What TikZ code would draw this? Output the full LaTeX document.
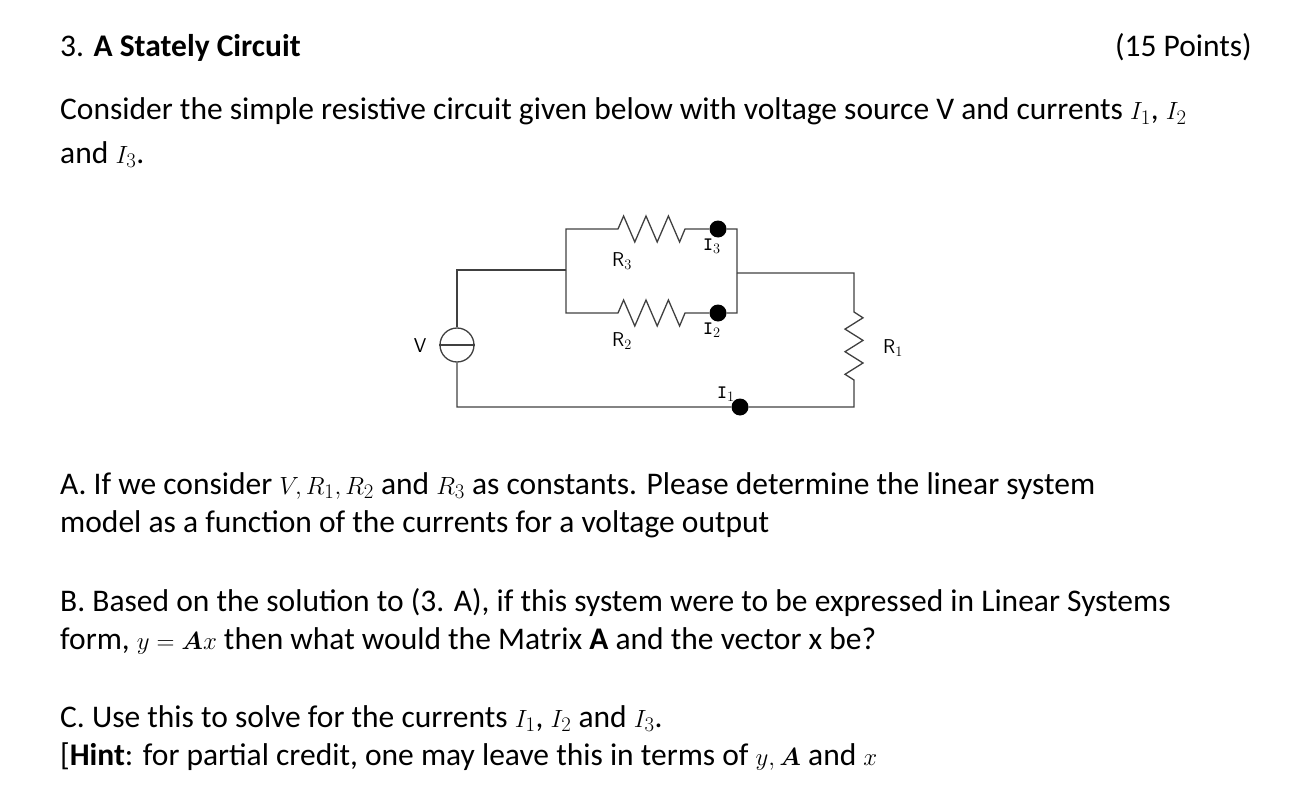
\documentclass[tikz,border=0pt]{standalone}
\usepackage{fontspec}
\setmainfont{Carlito}
\usepackage{amsmath}
\begin{document}
\begin{tikzpicture}[x=1pt,y=-1pt,
  txt/.style={anchor=base west,inner sep=0,font=\fontsize{31.5}{36}\selectfont},
  lab/.style={inner sep=0,font=\fontsize{20}{24}\selectfont\sffamily},
  cur/.style={inner sep=0,font=\fontsize{19}{22}\selectfont\ttfamily\bfseries},
  w/.style={line width=1.3pt,black!75},
  dot/.style={circle,fill=black,inner sep=0,minimum size=17pt}]
\useasboundingbox (0,0) rectangle (1302,808);
\node[txt] (t1) at (60,57) {3. \textbf{A Stately Circuit}};
\node[txt,anchor=base east] (t2) at (1252,57) {(15 Points)};
\node[txt] (l1) at (60,120) {Consider the simple resistive circuit given below with voltage source V and currents $I_1$, $I_2$};
\node[txt] (l2) at (60,163) {and $I_3$.};
\node[txt] (a1) at (60,494) {A. If we consider $V, R_1, R_2$ and $R_3$ as constants. Please determine the linear system};
\node[txt] (a2) at (60,532) {model as a function of the currents for a voltage output};
\node[txt] (b1) at (60,611) {B. Based on the solution to (3. A), if this system were to be expressed in Linear Systems};
\node[txt] (b2) at (60,649) {form, $y=\boldsymbol{A}x$ then what would the Matrix \textbf{A} and the vector x be?};
\node[txt] (c1) at (60,727) {C. Use this to solve for the currents $I_1$, $I_2$ and $I_3$.};
\node[txt] (c2) at (60,765) {[\textbf{Hint}: for partial credit, one may leave this in terms of $y, \boldsymbol{A}$ and $x$};
% circuit
\node[circle,draw,w,minimum size=34pt,inner sep=0] (src) at (457,345) {};
\draw[w] (src.west) -- (src.east);
\coordinate (tl) at (457,270); \coordinate (bl) at (457,407);
\coordinate (pl) at (566,270); \coordinate (pr) at (737,273);
\coordinate (rr) at (854,273); \coordinate (br) at (854,407);
\node[dot] (d1) at (740,407) {};
\node[dot] (d3) at (718,229) {};
\node[dot] (d2) at (718,313) {};
\draw[w] (src.north) -- (tl) -- (pl);
\draw[w] (src.south) -- (bl) -- (d1) -- (br) -- (854,380)
  -- ++(-9,-5.7) -- ++(18,-11.3) -- ++(-18,-11.3) -- ++(18,-11.3) -- ++(-18,-11.3) -- ++(18,-11.3) -- (854,312) -- (rr) -- (pr);
\foreach \yy/\d in {229/d3,313/d2}{
  \draw[w] (566,270) -- (566,\yy) -- (618,\yy)
   -- ++(5.6,-13) -- ++(11.2,26) -- ++(11.2,-26) -- ++(11.2,26) -- ++(11.2,-26) -- ++(11.2,26) -- (685,\yy) -- (\d) -- (737,\yy) -- (737,273);
}
\node[lab] (V) at (420,346) {V};
\node[lab] (R3) at (622,261) {R$_3$};
\node[lab] (R2) at (622,341) {R$_2$};
\node[lab] (R1) at (893,348) {R$_1$};
\node[cur] (I3) at (712,246) {I$_3$};
\node[cur] (I2) at (712,330) {I$_2$};
\node[cur] (I1) at (726,394) {I$_1$};
\end{tikzpicture}
\end{document}
